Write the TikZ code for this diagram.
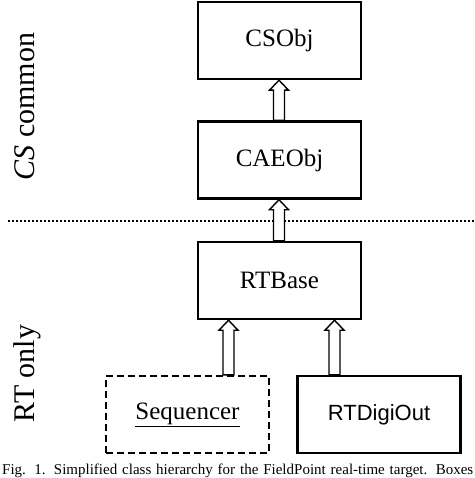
\documentclass[tikz,border=0pt]{standalone}
\usepackage{fontspec}
\setmainfont{Liberation Serif}
\newfontfamily\arialfont{Liberation Sans}
\usetikzlibrary{calc}
\tikzset{
  classbox/.style={draw, line width=2.4pt, minimum width=163pt, minimum height=77pt, inner sep=0pt, font=\fontsize{25}{30}\selectfont},
  dashbox/.style={classbox, dash pattern=on 7pt off 4pt},
  inh/.style={draw, fill=white, line width=1.4pt, line join=miter},
  sidelabel/.style={rotate=90, anchor=base, inner sep=0pt, font=\fontsize{30}{36}\selectfont},
  divider/.style={line width=2pt, dash pattern=on 2pt off 2pt}
}
\newcommand\inharrow[3]{% #1 child node, #2 parent node, #3 x
  \coordinate (tip) at (#3,0 |- #2.south);
  \draw[inh] (tip) -- ++(9.5,10) -- ++(-4,0)
    -- ({#3+5.5},0 |- #1.north) -- ({#3-5.5},0 |- #1.north)
    -- ($(tip)+(-5.5,10)$) -- ++(-4,0) -- cycle;}
\begin{document}
\begin{tikzpicture}[x=1pt,y=-1pt]
\useasboundingbox (0,0) rectangle (474,478);
\node[classbox] (cso) at (279.5,40.5) {CSObj};
\node[classbox] (cae) at (279.5,160) {CAEObj};
\node[classbox] (rtb) at (279.5,280.5) {RTBase};
\node[dashbox] (seq) at (187.5,414.5) {\underline{Sequencer}};
\node[classbox, font=\arialfont\fontsize{22}{26}\selectfont] (rtd) at (379,414.5) {RTDigiOut};
\coordinate (dl) at (8,221);
\coordinate (dr) at (474,221);
\draw[divider] (dl) -- (dr);
\inharrow{cae}{cso}{279}
\inharrow{rtb}{cae}{279}
\inharrow{seq}{rtb}{228.5}
\inharrow{rtd}{rtb}{334.5}
\node[sidelabel] (cs) at (34,106.5) {\textit{CS} common};
\node[sidelabel] (rt) at (34,373.5) {RT only};
\node[anchor=base west, inner sep=0pt, font=\fontsize{15}{17}\selectfont] (cap) at (2,474.5) {\makebox[471pt][s]{Fig. 1. Simplified class hierarchy for the FieldPoint real-time target. Boxes}};
\end{tikzpicture}
\end{document}
